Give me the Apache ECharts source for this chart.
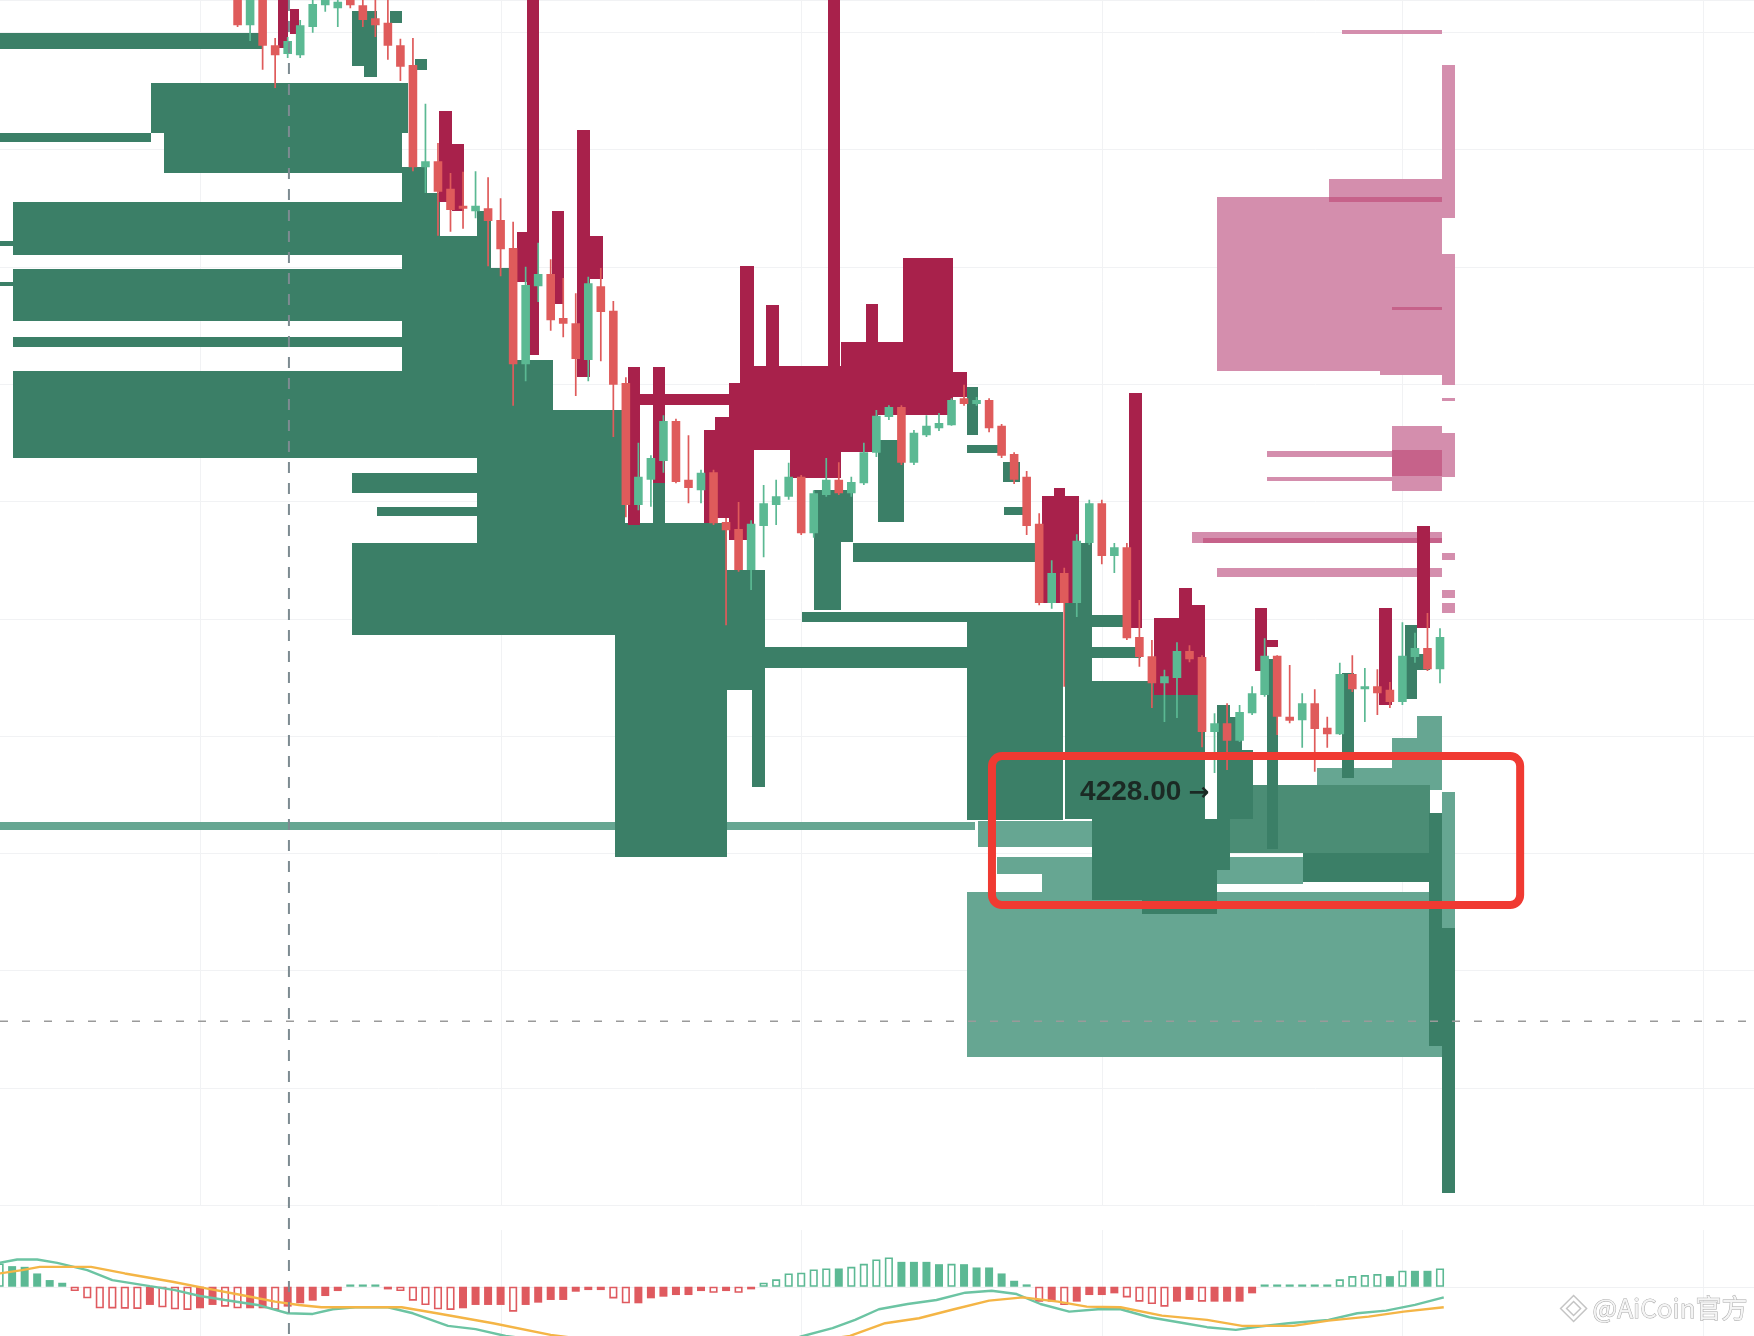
<!DOCTYPE html>
<html>
<head>
<meta charset="utf-8">
<script src="https://cdn.jsdelivr.net/npm/echarts@6/dist/echarts.min.js"></script>
<style>
html,body{margin:0;padding:0;background:#ffffff;}
#chart{width:1754px;height:1336px;}
</style>
</head>
<body>
<div id="chart"></div>
<script>
// ---------- DATA ----------
const firstCandleIndex = 27;
// [open, close, low, high]
const candleOHLC = [
[4368.9,4361.2,4360.9,4372.3],[4361.2,4366.0,4358.5,4367.2],[4366.9,4357.7,4353.6,4368.1],[4357.8,4356.1,4350.5,4359.0],
[4356.3,4358.5,4355.6,4359.2],[4356.1,4361.2,4355.6,4362.1],[4360.9,4364.8,4359.9,4365.5],[4364.6,4365.8,4363.5,4366.5],
[4364.1,4365.2,4360.9,4366.4],[4366.2,4364.6,4364.1,4367.2],[4364.6,4362.1,4360.9,4365.5],[4362.4,4361.2,4359.2,4365.8],
[4361.6,4357.7,4355.3,4365.8],[4357.8,4354.1,4351.7,4358.9],[4354.4,4337.0,4336.3,4359.0],[4337.0,4338.0,4332.6,4347.8],
[4338.0,4332.8,4325.3,4341.1],[4333.3,4329.7,4326.0,4336.0],[4330.4,4329.9,4326.5,4336.2],[4329.5,4330.4,4328.3,4336.3],
[4330.0,4327.8,4320.1,4335.3],[4328.0,4323.0,4318.4,4331.7],[4323.2,4303.4,4296.3,4327.7],[4303.4,4316.9,4300.5,4320.0],
[4316.7,4318.8,4314.0,4324.1],[4318.8,4310.9,4309.1,4321.3],[4311.3,4310.3,4308.0,4318.1],[4310.4,4304.3,4298.0,4315.5],
[4304.1,4317.2,4300.5,4318.3],[4316.7,4312.3,4303.9,4319.8],[4312.5,4299.9,4291.0,4314.2],[4300.2,4279.4,4277.3,4301.2],
[4279.4,4284.2,4278.5,4290.0],[4283.7,4287.4,4279.1,4287.9],[4286.9,4293.7,4284.9,4294.7],[4293.7,4283.3,4283.1,4294.1],
[4283.7,4282.3,4279.7,4291.3],[4281.9,4284.9,4279.7,4285.4],[4285.0,4276.3,4276.0,4285.4],[4276.5,4275.1,4258.9,4277.2],
[4275.3,4268.3,4268.0,4279.9],[4268.3,4276.2,4264.9,4276.8],[4275.8,4279.7,4270.5,4282.8],[4279.4,4280.9,4276.0,4283.7],
[4280.8,4284.2,4280.3,4286.6],[4284.2,4274.6,4274.3,4284.5],[4274.6,4281.4,4273.8,4281.9],[4281.1,4283.7,4280.8,4287.4],
[4283.7,4281.4,4281.1,4286.7],[4281.4,4283.3,4280.8,4284.2],[4283.1,4288.4,4282.8,4290.0],[4288.3,4294.6,4287.6,4295.6],
[4294.4,4296.1,4293.9,4296.4],[4296.1,4286.6,4286.2,4296.4],[4286.6,4291.7,4286.2,4292.2],[4291.3,4292.9,4291.0,4294.7],
[4292.5,4293.4,4292.0,4295.1],[4293.0,4297.3,4292.9,4297.6],[4297.6,4296.6,4296.3,4299.9],[4296.6,4297.3,4296.3,4297.8],
[4297.3,4292.5,4291.8,4297.6],[4292.9,4287.8,4287.4,4293.2],[4288.1,4283.7,4283.0,4288.4],[4284.2,4275.8,4274.3,4285.2],
[4276.2,4262.7,4262.3,4278.0],[4262.7,4267.8,4261.7,4270.0],[4267.8,4262.7,4248.4,4268.7],[4262.7,4273.3,4260.3,4274.4],
[4272.9,4279.7,4272.6,4280.3],[4279.7,4270.7,4269.3,4280.3],[4270.7,4272.2,4267.8,4272.9],[4272.2,4256.7,4256.4,4272.9],
[4256.9,4253.5,4251.8,4263.2],[4253.6,4249.0,4244.8,4256.4],[4249.0,4250.2,4242.4,4251.3],[4249.9,4254.5,4243.1,4256.0],
[4254.5,4253.1,4252.6,4255.5],[4253.5,4240.7,4238.1,4253.8],[4240.7,4242.2,4233.7,4243.9],[4242.2,4239.2,4234.2,4245.6],
[4239.2,4244.1,4239.0,4245.3],[4243.9,4247.3,4243.6,4248.5],[4247.0,4253.7,4246.7,4256.7],[4253.7,4243.3,4240.2,4253.8],
[4243.3,4242.6,4242.2,4252.1],[4242.7,4245.6,4238.0,4247.3],[4245.6,4241.2,4233.9,4248.0],[4241.4,4240.3,4238.0,4243.3],
[4240.3,4250.6,4240.2,4252.5],[4250.6,4248.0,4247.5,4253.8],[4248.0,4248.5,4242.4,4251.6],[4248.5,4247.3,4243.6,4251.4],
[4247.9,4245.8,4244.8,4249.2],[4245.8,4253.7,4245.3,4259.4],[4253.5,4255.0,4252.5,4257.6],[4255.0,4251.4,4251.1,4261.0],
[4251.4,4256.9,4249.0,4258.4]
];

// liquidation levels: [startIndex, endIndex, priceTop, priceBottom]
const longLevelsDark = [
[0,29.0,4359.9,4357.1],[0,20.1,4342.8,4341.3],[20.1,40.6,4351.3,4342.8],[21.1,40.1,4342.8,4336.0],
[9.1,40.1,4331.1,4322.0],[0,9.1,4324.4,4323.6],[9.1,40.1,4319.6,4310.8],[0,9.1,4317.4,4316.7],
[9.1,40.1,4308.0,4306.3],[9.1,40.1,4302.2,4287.4],[36.1,38.1,4363.6,4354.2],[37.1,38.1,4354.2,4352.4],
[39.2,40.1,4363.6,4361.6],[41.2,42.1,4355.4,4353.6],[40.1,42.1,4337.0,4287.4],[42.1,43.2,4332.6,4287.4],
[43.2,46.1,4325.3,4287.4],[46.1,47.2,4329.5,4272.9],[47.2,49.3,4319.8,4272.9],[49.3,52.2,4304.1,4272.9],
[52.2,57.9,4295.6,4272.9],[36.1,46.1,4284.9,4281.4],[38.1,46.1,4279.1,4277.5],[36.1,57.9,4272.9,4257.2],
[57.1,66.1,4276.3,4219.4],[60.2,61.1,4283.3,4276.3],[66.1,68.1,4268.3,4247.9],[68.1,69.1,4268.3,4231.3],
[69.1,85.2,4255.2,4251.6],[72.1,85.2,4261.2,4259.5],[73.0,75.2,4281.9,4261.5],[75.2,76.1,4281.9,4273.1],
[76.1,90.8,4272.9,4269.7],[78.1,80.2,4290.5,4276.5],[85.2,92.9,4261.2,4225.7],[85.2,88.2,4289.6,4288.3],
[88.2,90.3,4279.1,4277.7],[88.1,89.5,4286.7,4283.3],[85.2,86.1,4299.5,4291.3],[93.1,95.2,4272.9,4225.9],
[95.2,99.1,4260.6,4258.6],[95.2,99.1,4255.2,4253.3],[95.2,104.2,4249.4,4225.9],[103.2,104.2,4252.1,4225.9],
[105.2,106.2,4245.3,4225.9],[106.2,107.2,4243.3,4225.9],[107.2,108.1,4237.6,4225.9],[109.2,110.1,4253.1,4220.7],
[115.2,116.1,4250.7,4232.8],[120.2,121.2,4259.0,4246.3],[121.2,122.2,4254.0,4251.3],[95.2,105.2,4225.9,4212.0],
[99.2,105.2,4212.0,4209.7],[105.2,106.2,4236.9,4217.2],[112.1,122.2,4220.1,4215.1],[122.1,123.2,4226.9,4187.2],
[123.2,124.2,4207.3,4162.1]
];
const longLevelsMid = [
[105.2,122.2,4231.7,4220.1]
];
const longLevelsLight = [
[0,85.9,4225.4,4224.0],[86.1,95.2,4225.5,4221.1],[87.6,95.2,4219.4,4216.5],[91.2,95.2,4216.5,4213.4],
[85.2,123.2,4213.4,4185.3],[105.2,112.1,4219.4,4214.8],[113.2,123.2,4234.6,4230.8],[119.2,123.2,4239.7,4234.6],
[121.2,123.2,4243.4,4239.7],[123.2,124.2,4230.5,4207.3]
];
const shortLevelsDark = [
[74.1,75.1,4380,4285.4],[67.1,68.2,4320.1,4273.4],[69.2,70.2,4313.5,4288.8],[77.2,78.1,4313.7,4300.7],
[75.2,78.1,4307.2,4288.4],[78.1,84.1,4307.2,4294.7],[80.1,84.1,4321.5,4307.2],[68.2,75.2,4303.1,4288.8],
[71.1,75.2,4288.8,4284.0],[66.2,68.2,4300.2,4273.4],[65.1,66.2,4294.4,4277.2],[58.2,66.2,4298.3,4296.4],
[58.2,59.1,4302.9,4276.0],[60.2,61.1,4302.9,4283.1],[64.2,65.1,4292.2,4276.3],[84.1,85.2,4302.1,4297.8],
[50.1,51.1,4380,4305.0],[54.1,55.1,4343.3,4301.2],[52.1,53.1,4329.5,4313.7],[43.1,44.1,4346.6,4331.1],
[44.1,45.1,4341.0,4329.5],[49.3,50.1,4326.0,4317.4],[55.1,56.2,4325.3,4317.9],[30.2,31.0,4380,4357.3],
[31.2,31.9,4364.0,4359.7],[91.2,94.2,4280.9,4262.7],[92.2,93.1,4282.3,4280.9],[98.2,99.2,4298.5,4258.4],
[100.2,104.2,4260.1,4247.0],[102.2,103.2,4265.2,4260.1],[103.2,104.2,4262.3,4258.6],[108.2,109.2,4261.8,4251.1],
[118.1,119.2,4261.8,4245.3],[121.2,122.2,4275.8,4258.4],[109.2,110.1,4256.4,4255.2]
];
const shortLevelsLight = [
[115.2,123.2,4360.4,4359.7],[123.2,124.2,4354.4,4328.3],[114.1,123.2,4335.0,4331.9],[105.2,123.2,4331.9,4302.2],
[123.2,124.2,4322.2,4299.9],[118.2,123.2,4302.4,4301.6],[119.2,123.2,4292.9,4281.8],[123.2,124.2,4291.7,4284.2],
[109.2,123.2,4288.6,4287.6],[109.2,123.2,4284.2,4283.5],[103.2,123.2,4274.8,4272.9],[105.2,123.2,4268.7,4267.1],
[123.2,124.2,4271.2,4270.0],[123.2,124.2,4264.9,4263.5],[123.2,124.2,4262.7,4261.0],[123.2,124.2,4297.6,4297.2]
];
const shortLevelsMid = [
[114.1,123.2,4331.9,4331.1],[119.2,123.2,4313.2,4312.6],[119.2,123.2,4288.8,4284.3],[104.1,123.2,4273.8,4272.9]
];

// MACD
const macdFirstIndex = 8;
const macdHist = [
4.68,4.14,4.0,2.67,1.34,0.8,-0.86,-2.3,-4.33,-4.35,-4.4,-4.45,-3.66,-4.13,-4.53,-4.66,-4.33,-3.66,-4.0,-4.33,
-4.33,-4.33,-4.66,-4.0,-3.33,-2.8,-1.87,-0.87,0.45,0.45,0.45,-0.53,-0.87,-2.8,-3.66,-4.53,-4.66,-4.33,-3.66,-3.66,
-3.66,-5.0,-3.66,-3.2,-2.66,-2.66,-1.0,-0.67,-0.67,-2.33,-3.33,-3.33,-2.33,-2.0,-1.67,-1.67,-0.87,-1.2,-0.87,-1.2,
-0.53,0.8,1.47,2.67,2.8,3.47,3.67,3.67,4.0,4.6,5.47,5.87,5.0,5.0,5.0,4.53,4.6,4.53,3.87,3.87,
2.67,1.2,0.47,-3.0,-3.0,-3.66,-3.0,-1.67,-1.67,-1.33,-2.13,-3.0,-3.47,-4.0,-3.0,-2.66,-3.0,-3.0,-3.0,-3.0,
-1.33,0.45,0.45,0.45,0.45,0.45,0.45,1.47,2.13,2.34,2.54,2.13,3.2,3.2,3.2,3.67
];
const difLine = [
[8,4.8],[9.4,5.47],[11,5.47],[12.6,4.8],[15,3.34],[17,1.34],[20,0.13],[22,-0.67],[24,-1.87],[26,-2.66],
[28.6,-3.66],[31,-5.33],[33,-5.47],[34.6,-4.53],[36.4,-4.13],[39,-4.13],[41,-5.33],[43.8,-7.87],[46,-8.53],[48.4,-9.9],
[52,-11],[56,-12],[60,-12.5],[65,-12.5],[70,-11.5],[72,-10],[74.5,-8.33],[76.3,-6.66],[78.2,-4.53],[80.5,-3.47],
[82.8,-2.66],[85.1,-1.2],[87.2,-0.8],[89.2,-1.47],[91.1,-3.47],[93.4,-5.0],[95.7,-4.53],[97.5,-4.53],[99.8,-6.13],[102.6,-7.33],
[104.4,-8.13],[106.7,-8.66],[108.6,-8.0],[110.9,-7.33],[114.1,-6.66],[116.4,-5.33],[118.7,-4.8],[121,-3.66],[123.3,-2.13]
];
const deaLine = [
[8,2.67],[9.8,3.34],[11.2,4.0],[15.3,4.0],[18,2.67],[21.8,1.0],[24.5,-0.33],[27.3,-1.67],[30,-3.0],[31.9,-3.66],
[33.7,-4.13],[40.1,-4.13],[42.9,-5.33],[47.4,-7.33],[52,-9.67],[56,-11],[62,-12],[68,-12],[73,-11],[75.9,-9.87],
[78.7,-7.33],[81.4,-6.33],[84.2,-4.53],[87,-2.8],[89.7,-2.13],[92.5,-3.0],[94.8,-4.0],[97.5,-4.13],[100.8,-5.8],[104.4,-6.66],
[107.2,-7.87],[111.3,-7.87],[114.1,-6.8],[117.3,-6.0],[120.1,-5.0],[123.3,-4.13]
];

// time grid (candle indices of vertical grid lines)
const timeGridIndices = [24, 48, 72, 96, 120, 144];

// annotations
const crosshairIndex = 31.1;
const crosshairPrice = 4191.4;
const levelLabel = { index: 104.5, price: 4228, text: '4228.00', arrow: '→' };
const highlightBox = [87.23, 129.4, 4236.6, 4211.2];
const watermarkText = '@AiCoin官方';

// ---------- STYLE ----------
const C_UP = '#5bb993', C_DOWN = '#df5b5b';
const C_GREEN_DARK = '#3b7f67', C_GREEN_MID = '#4b8d75', C_GREEN_LIGHT = '#66a692';
const C_RED_DARK = '#a8214b', C_PINK = '#d48ead', C_PINK_MID = '#c6628a';
const GRID_LINE = '#f1f2f4';

const chart = echarts.init(document.getElementById('chart'), null, { renderer: 'canvas' });

function rectRenderer(color) {
  return function (params, api) {
    const a = api.coord([api.value(0), api.value(2)]);
    const b = api.coord([api.value(1), api.value(3)]);
    const cs = params.coordSys;
    const x0 = Math.round(a[0]), x1 = Math.round(b[0]);
    const y0 = Math.round(a[1]), y1 = Math.round(b[1]);
    const shape = echarts.graphic.clipRectByRect(
      { x: x0, y: y0, width: Math.max(x1 - x0, 1), height: Math.max(y1 - y0, 1) },
      { x: cs.x, y: cs.y, width: cs.width, height: cs.height });
    return shape && { type: 'rect', shape: shape, style: { fill: color } };
  };
}
function levelSeries(name, data, color, z) {
  return {
    name: name, type: 'custom', xAxisIndex: 0, yAxisIndex: 0, z: z, silent: true,
    renderItem: rectRenderer(color), encode: { x: [0, 1], y: [2, 3] }, data: data, clip: true
  };
}
function timeGridSeries(gridIdx) {
  return {
    name: 'timeGrid' + gridIdx, type: 'custom', xAxisIndex: gridIdx, yAxisIndex: gridIdx, z: 0, silent: true,
    data: timeGridIndices.map(v => [v]), encode: { x: 0 },
    renderItem: function (params, api) {
      const cs = params.coordSys;
      const x = Math.round(api.coord([api.value(0), 0])[0]) + 0.5;
      return { type: 'line', shape: { x1: x, y1: cs.y, x2: x, y2: cs.y + cs.height },
        style: { stroke: GRID_LINE, lineWidth: 1 } };
    }
  };
}

const candleData = candleOHLC.map((d, k) => [firstCandleIndex + k, d[0], d[1], d[2], d[3]]);
const histData = macdHist.map((v, k) => [macdFirstIndex + k, v]);

const axisHidden = { axisLine: { show: false }, axisTick: { show: false }, axisLabel: { show: false } };

const option = {
  backgroundColor: '#ffffff',
  animation: false,
  grid: [
    { left: 0, right: 0, top: 0, height: 1205.3 },
    { left: 0, right: 0, top: 1230, height: 106 }
  ],
  xAxis: [
    Object.assign({ type: 'value', gridIndex: 0, min: 8.032, max: 148.07, splitLine: { show: false } }, axisHidden),
    Object.assign({ type: 'value', gridIndex: 1, min: 8.032, max: 148.07, splitLine: { show: false } }, axisHidden)
  ],
  yAxis: [
    Object.assign({ type: 'value', gridIndex: 0, min: 4160, max: 4365.5, interval: 20, scale: true,
      splitLine: { show: true, lineStyle: { color: GRID_LINE, width: 1 } } }, axisHidden),
    Object.assign({ type: 'value', gridIndex: 1, min: -9.9, max: 11.4, scale: true,
      splitLine: { show: false } }, axisHidden)
  ],
  series: [
    timeGridSeries(0),
    timeGridSeries(1),
    levelSeries('longLight', longLevelsLight, C_GREEN_LIGHT, 1),
    levelSeries('shortLight', shortLevelsLight, C_PINK, 1),
    levelSeries('longMid', longLevelsMid, C_GREEN_MID, 2),
    levelSeries('shortMid', shortLevelsMid, C_PINK_MID, 2),
    levelSeries('longDark', longLevelsDark, C_GREEN_DARK, 3),
    levelSeries('shortDark', shortLevelsDark, C_RED_DARK, 3),
    {
      name: 'kline', type: 'custom', xAxisIndex: 0, yAxisIndex: 0, z: 6, silent: true, clip: true,
      encode: { x: 0, y: [1, 2, 3, 4] }, data: candleData,
      renderItem: function (params, api) {
        const i = api.value(0), o = api.value(1), c = api.value(2), l = api.value(3), h = api.value(4);
        const po = api.coord([i, o]), pc = api.coord([i, c]), pl = api.coord([i, l]), ph = api.coord([i, h]);
        const color = c >= o ? C_UP : C_DOWN;
        const w = 8.6;
        const top = Math.min(po[1], pc[1]);
        const hh = Math.max(Math.abs(po[1] - pc[1]), 1.6);
        return { type: 'group', children: [
          { type: 'rect', shape: { x: po[0] - 0.85, y: ph[1], width: 1.7, height: pl[1] - ph[1] }, style: { fill: color } },
          { type: 'rect', shape: { x: po[0] - w / 2, y: top, width: w, height: hh }, style: { fill: color } }
        ] };
      }
    },
    {
      name: 'macdZero', type: 'custom', xAxisIndex: 1, yAxisIndex: 1, z: 0, silent: true,
      data: [[0]], encode: { y: 0 },
      renderItem: function (params, api) {
        const cs = params.coordSys;
        const y = Math.round(api.coord([10, api.value(0)])[1]) + 0.5;
        return { type: 'line', shape: { x1: cs.x, y1: y, x2: cs.x + cs.width, y2: y },
          style: { stroke: '#f0f1f3', lineWidth: 1 } };
      }
    },
    {
      name: 'MACD', type: 'custom', xAxisIndex: 1, yAxisIndex: 1, z: 3, silent: true, clip: true,
      encode: { x: 0, y: 1 }, data: histData,
      renderItem: function (params, api) {
        const i = api.value(0), v = api.value(1);
        const k = params.dataIndex;
        const prev = k > 0 ? macdHist[k - 1] : 0;
        const hollow = Math.abs(v) > Math.abs(prev);
        const p0 = api.coord([i, 0]), p1 = api.coord([i, v]);
        const color = v >= 0 ? '#5cb994' : '#df5a5f';
        const w = 8;
        const y = Math.min(p0[1], p1[1]);
        const h = Math.max(Math.abs(p1[1] - p0[1]), 2);
        if (hollow) {
          return { type: 'rect', shape: { x: p0[0] - w / 2 + 0.75, y: y + 0.75, width: w - 1.5, height: Math.max(h - 1.5, 1) },
            style: { fill: '#ffffff', stroke: color, lineWidth: 1.6 } };
        }
        return { type: 'rect', shape: { x: p0[0] - w / 2, y: y, width: w, height: h }, style: { fill: color } };
      }
    },
    {
      name: 'DIF', type: 'line', xAxisIndex: 1, yAxisIndex: 1, z: 4, data: difLine, showSymbol: false,
      silent: true, lineStyle: { color: '#6cc4a3', width: 2.4 }
    },
    {
      name: 'DEA', type: 'line', xAxisIndex: 1, yAxisIndex: 1, z: 4, data: deaLine, showSymbol: false,
      silent: true, lineStyle: { color: '#f4b546', width: 2.4 }
    }
  ]
};
chart.setOption(option);

// annotation overlay positioned from data coordinates
const vx = chart.convertToPixel({ xAxisIndex: 0 }, crosshairIndex);
const hy = chart.convertToPixel({ yAxisIndex: 0 }, crosshairPrice);
const b0 = chart.convertToPixel({ gridIndex: 0 }, [highlightBox[0], highlightBox[2]]);
const b1 = chart.convertToPixel({ gridIndex: 0 }, [highlightBox[1], highlightBox[3]]);
const lp = chart.convertToPixel({ gridIndex: 0 }, [levelLabel.index, levelLabel.price]);

chart.setOption({
  graphic: [
    { type: 'line', silent: true, z: 50,
      shape: { x1: 0, y1: hy, x2: 1754, y2: hy },
      style: { stroke: '#9a9a9a', lineWidth: 1.5, lineDash: [8, 14] } },
    { type: 'line', silent: true, z: 50,
      shape: { x1: vx, y1: 0, x2: vx, y2: 1336 },
      style: { stroke: '#7d8b91', lineWidth: 2, lineDash: [11, 10] } },
    { type: 'text', silent: true, z: 60,
      x: lp[0] - 27, y: lp[1] - 14,
      style: { text: levelLabel.text, fill: '#1b2a24', font: 'bold 28px "Liberation Sans", Arial, sans-serif',
        align: 'right', verticalAlign: 'middle' } },
    { type: 'text', silent: true, z: 60,
      x: lp[0] + 1, y: lp[1] - 13,
      style: { text: levelLabel.arrow, fill: '#1b2a24', font: 'bold 25px "DejaVu Sans", sans-serif',
        align: 'right', verticalAlign: 'middle' } },
    { type: 'rect', silent: true, z: 70,
      shape: { x: b0[0], y: b0[1], width: b1[0] - b0[0], height: b1[1] - b0[1], r: 10 },
      style: { fill: 'none', stroke: '#f03a32', lineWidth: 8 } },
    { type: 'group', silent: true, z: 80, right: 6, bottom: 12,
      children: [
        { type: 'polygon', shape: { points: [[13, 0], [26, 13], [13, 26], [0, 13]] },
          style: { fill: 'none', stroke: '#c4c4c4', lineWidth: 1.5 } },
        { type: 'polygon', shape: { points: [[13, 6], [20, 13], [13, 20], [6, 13]] },
          style: { fill: 'none', stroke: '#c4c4c4', lineWidth: 1.5 } },
        { type: 'text', x: 32, y: 13,
          style: { text: watermarkText, fill: '#f4f4f4', stroke: '#a8a8a8', lineWidth: 1,
            font: '26px "Noto Sans CJK SC", "Noto Sans", sans-serif', verticalAlign: 'middle' } }
      ] }
  ]
});
</script>
</body>
</html>
